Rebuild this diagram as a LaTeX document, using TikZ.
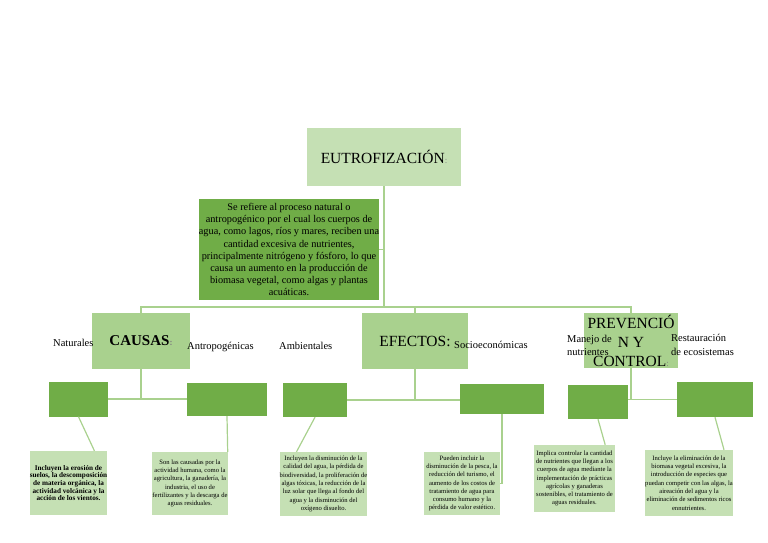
\documentclass[tikz,border=0pt]{standalone}
\usepackage{fontspec}
\setmainfont{Liberation Serif}
\usetikzlibrary{positioning,calc}
\definecolor{palegreen}{HTML}{C5E0B4}
\definecolor{midgreen}{HTML}{A9D18E}
\definecolor{leafgreen}{HTML}{70AD47}
\tikzset{topic/.style={fill=midgreen,inner sep=0pt,align=center,font=\fontsize{15.5}{19}\selectfont}}
\tikzset{leaf/.style={fill=leafgreen,inner sep=0pt}}
\tikzset{note/.style={fill=palegreen,inner sep=0pt,align=center,font=\fontsize{6.6}{8.3}\selectfont}}
\tikzset{lbl/.style={inner sep=0pt,align=left,font=\fontsize{10.5}{13}\selectfont}}
\tikzset{link/.style={draw=midgreen,line width=1.2pt}}
\newcommand{\dimcolon}{{\fontsize{9}{9}\selectfont\color{gray}:}}

\begin{document}
\begin{tikzpicture}[x=1pt,y=-1pt]
  \useasboundingbox (0,0) rectangle (768,543);
  % title and definition
  \node[topic,fill=palegreen,minimum width=154pt,minimum height=58pt] (title) at (384,157) {EUTROFIZACIÓN\dimcolon};
  \node[leaf,minimum width=180pt,minimum height=101pt,align=center,font=\fontsize{10.3}{12.1}\selectfont] (defn) at (289,249.5)
    {Se refiere al proceso natural o\\antropogénico por el cual los cuerpos de\\agua, como lagos, ríos y mares, reciben una\\cantidad excesiva de nutrientes,\\principalmente nitrógeno y fósforo, lo que\\causa un aumento en la producción de\\biomasa vegetal, como algas y plantas\\acuáticas.};
  \coordinate (bus) at (384,307);
  % main topics
  \node[topic,minimum width=98pt,minimum height=56pt,font=\fontsize{15}{18}\selectfont\bfseries] (causas) at (141,341) {CAUSAS\dimcolon};
  \node[topic,minimum width=106pt,minimum height=56pt] (efectos) at (415,341) {EFECTOS:};
  \node[topic,minimum width=94pt,minimum height=55pt] (prevencion) at (631,340.5) {PREVENCIÓ\\N Y\\CONTROL\dimcolon};
  % sub boxes
  \node[leaf,minimum width=59pt,minimum height=35pt] (nat) at (78.5,399) {};
  \node[leaf,minimum width=80pt,minimum height=33pt] (ant) at (227,399.5) {};
  \node[leaf,minimum width=64pt,minimum height=34pt] (amb) at (315,400) {};
  \node[leaf,minimum width=84pt,minimum height=30pt] (soc) at (502,399) {};
  \node[leaf,minimum width=60pt,minimum height=34pt] (man) at (598,402) {};
  \node[leaf,minimum width=76pt,minimum height=35pt] (res) at (715,399.5) {};
  % labels
  \node[lbl,anchor=west] (lnat) at (53,343) {Naturales};
  \node[lbl,anchor=west] (lant) at (187,347) {Antropogénicas};
  \node[lbl,anchor=west] (lamb) at (279,346) {Ambientales};
  \node[lbl,anchor=west] (lsoc) at (454,345) {Socioeconómicas};
  \node[lbl,anchor=north west,font=\fontsize{10.5}{13.5}\selectfont] (lman) at (567,335) {Manejo de\\nutrientes};
  \node[lbl,anchor=north west,font=\fontsize{10.5}{13.5}\selectfont] (lres) at (671,334) {Restauración\\de ecosistemas};
  % notes
  \node[note,minimum width=77pt,minimum height=64pt,font=\fontsize{7.2}{7.6}\selectfont\bfseries] (dnat) at (68.5,483)
    {Incluyen la erosión de\\suelos, la descomposición\\de materia orgánica, la\\actividad volcánica y la\\acción de los vientos.};
  \node[note,minimum width=74pt,minimum height=63pt] (dant) at (190,483.5)
    {Son las causadas por la\\actividad humana, como la\\agricultura, la ganadería, la\\industria, el uso de\\fertilizantes y la descarga de\\aguas residuales.};
  \node[note,minimum width=87pt,minimum height=64pt] (damb) at (323.5,484)
    {Incluyen la disminución de la\\calidad del agua, la pérdida de\\biodiversidad, la proliferación de\\algas tóxicas, la reducción de la\\luz solar que llega al fondo del\\agua y la disminución del\\oxígeno disuelto.};
  \node[note,minimum width=76pt,minimum height=63pt] (dsoc) at (462,483.5)
    {Pueden incluir la\\disminución de la pesca, la\\reducción del turismo, el\\aumento de los costos de\\tratamiento de agua para\\consumo humano y la\\pérdida de valor estético.};
  \node[note,minimum width=81pt,minimum height=67pt] (dman) at (574.5,478.5)
    {Implica controlar la cantidad\\de nutrientes que llegan a los\\cuerpos de agua mediante la\\implementación de prácticas\\agrícolas y ganaderas\\sostenibles, el tratamiento de\\aguas residuales.};
  \node[note,minimum width=86pt,minimum height=66pt] (dres) at (689,483)
    {Incluye la eliminación de la\\biomasa vegetal excesiva, la\\introducción de especies que\\puedan competir con las algas, la\\aireación del agua y la\\eliminación de sedimentos ricos\\ennutrientes.};
  % connectors
  \draw[link] (title.south) -- (title.south |- bus);
  \draw[link] (defn.east) -- (defn.east -| title.south);
  \draw[link] (causas.north) |- (bus) -| (prevencion.north);
  \draw[link] (efectos.north) -- (efectos.north |- bus);
  \draw[link] (causas.south) -- (causas.south |- nat.east);
  \draw[link] (nat.east) -- (nat.east -| ant.west);
  \draw[link] (efectos.south) -- (efectos.south |- amb.east);
  \draw[link] (amb.east) -- (amb.east -| soc.west);
  \draw[link] (prevencion.south) -- (prevencion.south |- res.west);
  \draw[link] (man.east |- res.west) -- (res.west);
  \draw[link] (nat.south) -- ([xshift=-13pt]dnat.north east);
  \draw[link] (ant.south) -- (dant.north east);
  \draw[link] (amb.south) -- ([xshift=17pt]damb.north west);
  \draw[link] (soc.south) |- (dsoc.east);
  \draw[link] (man.south) -- ([xshift=-10pt]dman.north east);
  \draw[link] (res.south) -- ([xshift=-9pt]dres.north east);
\end{tikzpicture}
\end{document}
